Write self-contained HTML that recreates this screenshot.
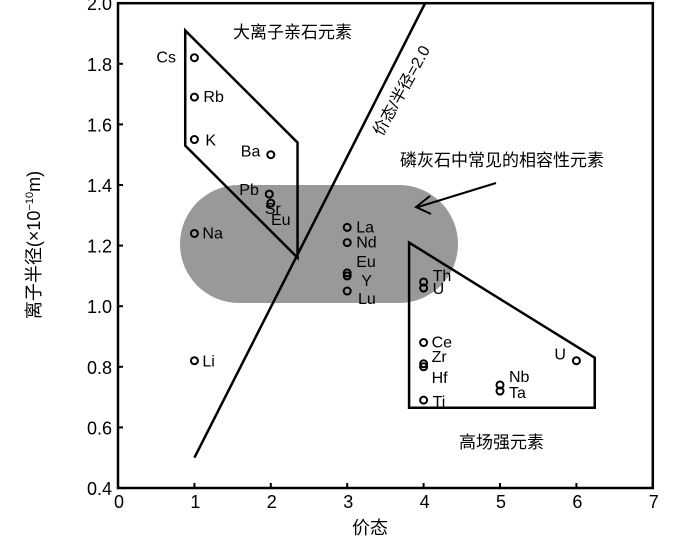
<!DOCTYPE html>
<html><head><meta charset="utf-8"><style>
body{margin:0;background:#fff;}
svg{display:block;font-family:"Liberation Sans","Noto Sans CJK SC",sans-serif;}
</style></head><body>
<svg id="chart" width="700" height="544" viewBox="0 0 700 544">
<g id="static"></g>
</svg>
<script>
const xTicks=[0,1,2,3,4,5,6,7];
const yTicks=[0.4,0.6,0.8,1.0,1.2,1.4,1.6,1.8,2.0];
const elements=["Cs","Rb","K","Ba","Pb","Sr","Na","Li","La","Nd","Eu","Eu2","Y","Th","U","Ce","Zr","Hf","Ti","Nb","Ta","U6"];
const valence=[1,1,1,2,1.98,2,1,1,3,3,3,3,3,4,4,4,4,4,4,5,5,6];
const radius=[1.82,1.69,1.55,1.50,1.37,1.34,1.24,0.82,1.26,1.21,1.11,1.10,1.05,1.08,1.06,0.88,0.81,0.80,0.69,0.74,0.72,0.82];
const labels=[["Cs",-38,5],["Rb",9,5],["K",11,6],["Ba",-30,2],["Pb",-30,1],["Sr",-6,11],["Na",8,5],["Li",8,6],["La",9,5],["Nd",9,5],["Eu",9,-6],["",0,0],["Y",14,-5],["Th",9,-1],["U",9,6],["Ce",8,5],["Zr",8,-2],["Hf",8,16],["Ti",9,7],["Nb",9,-3],["Ta",9,7],["U",-22,-1]];
const lilePoly=[[0.88,1.91],[2.35,1.54],[2.35,1.16],[0.88,1.53]];
const hfsePoly=[[3.81,1.21],[6.24,0.83],[6.24,0.665],[3.81,0.665]];
const refLine=[[1,0.5],[4.02,2.0]];
const X=v=>118+v*76.4;
const Y=v=>488-(v-0.4)*303;
const NS="http://www.w3.org/2000/svg";
const svg=document.getElementById('static');
function mk(t,a,p){const e=document.createElementNS(NS,t);for(const k in a)e.setAttribute(k,a[k]);(p||svg).appendChild(e);return e;}
// grey stadium
const st=mk('rect',{x:180,y:185,width:278,height:118,rx:59,ry:59,fill:'#999'});


// frame
const fr=mk('rect',{x:X(0),y:Y(2.0),width:X(7)-X(0),height:Y(0.4)-Y(2.0),fill:'none',stroke:'#000','stroke-width':2.5});


xTicks.forEach(t=>{
  const l=mk('line',{x1:X(t),x2:X(t),y1:Y(0.4),y2:Y(0.4)-5,stroke:'#000','stroke-width':2});
  
  
  const tx=mk('text',{x:X(t)+1,y:508,'font-size':18,'text-anchor':'middle'});tx.textContent=t;
  
  
});
yTicks.forEach(t=>{
  const l=mk('line',{x1:X(0),x2:X(0)+5,y1:Y(t),y2:Y(t),stroke:'#000','stroke-width':2});
  
  
  const tx=mk('text',{x:X(0)-6,y:Y(t)+7,'font-size':18,'text-anchor':'end'});tx.textContent=t.toFixed(1);
  
  
});
const pp=a=>a.map(p=>X(p[0])+','+Y(p[1])).join(' ');
const p1=mk('polygon',{points:pp(lilePoly),fill:'none',stroke:'#000','stroke-width':2.5});


const p2=mk('polygon',{points:pp(hfsePoly),fill:'none',stroke:'#000','stroke-width':2.5});


const rl=mk('line',{x1:X(refLine[0][0]),y1:Y(refLine[0][1]),x2:X(refLine[1][0]),y2:Y(refLine[1][1]),stroke:'#000','stroke-width':2.5});


elements.forEach((e,i)=>{
  const c=mk('circle',{cx:X(valence[i]),cy:Y(radius[i]),r:3.5,fill:'none',stroke:'#000','stroke-width':2});
  
  
  const L=labels[i];
  if(L[0]){const t=mk('text',{x:X(valence[i])+L[1],y:Y(radius[i])+L[2],'font-size':16});t.textContent=L[0];
  
  }
});
const eu=mk('text',{x:271,y:225,'font-size':16});eu.textContent='Eu';


const lu=mk('text',{x:358,y:304,'font-size':16});lu.textContent='Lu';


// arrow
const ar=mk('line',{x1:496,y1:183,x2:418,y2:207,stroke:'#000','stroke-width':2});


const ah=mk('polyline',{points:'430,196 416,207 431,214',fill:'none',stroke:'#000','stroke-width':2});


function txt(s,x,y,sz,name,extra){const t=mk('text',Object.assign({x:x,y:y,'font-size':sz},extra||{}));t.textContent=s;

return t;}
txt('大离子亲石元素',233,38,17,'lile-label');
txt('磷灰石中常见的相容性元素',400,166,17,'compatible-label');
txt('高场强元素',459,448,17,'hfse-label');
txt('价态/半径=2.0',0,0,16,'line-label',{transform:'translate(382,137) rotate(-61)'});
txt('价态',370,534,18,'x-axis-title',{'text-anchor':'middle'});
const yt=mk('text',{transform:'translate(40,245) rotate(-90)','font-size':18,'text-anchor':'middle'});
yt.innerHTML='离子半径(×10<tspan dy="-7" font-size="11">−10</tspan><tspan dy="7">m)</tspan>';


</script>
</body></html>
